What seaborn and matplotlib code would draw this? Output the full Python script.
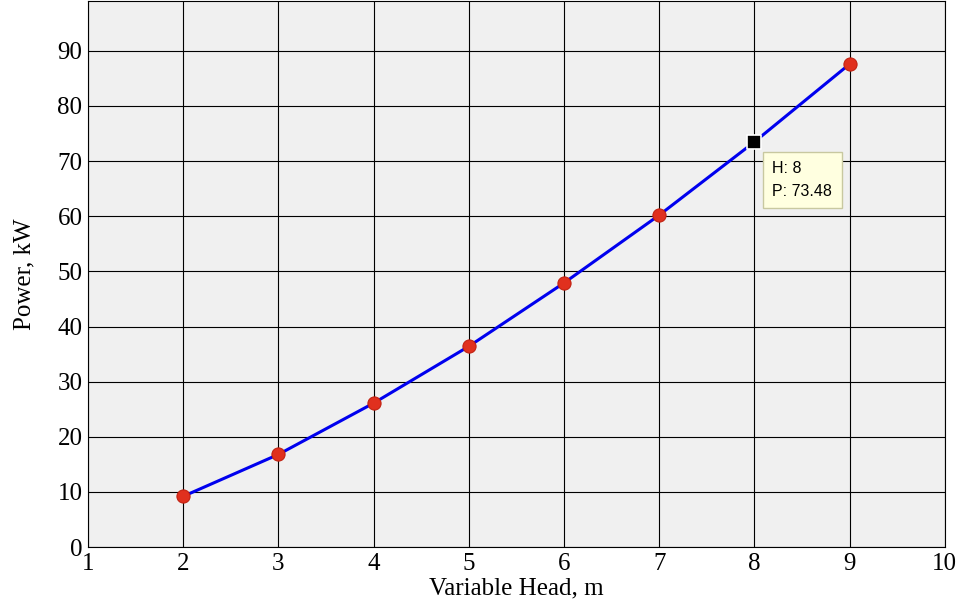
import matplotlib
matplotlib.use("Agg")
import matplotlib.pyplot as plt
import seaborn as sns
import pandas as pd

head = [2, 3, 4, 5, 6, 7, 8, 9]
power = [9.2, 16.8, 26.1, 36.4, 47.9, 60.2, 73.48, 87.6]
sel_h, sel_p = 8, 73.48

sns.set_theme(style="whitegrid")
plt.rcParams['font.family'] = ['Liberation Serif', 'DejaVu Serif']
plt.rcParams['text.color'] = 'black'
plt.rcParams['axes.labelcolor'] = 'black'
plt.rcParams['xtick.color'] = 'black'
plt.rcParams['ytick.color'] = 'black'

df = pd.DataFrame({"H": head, "P": power})
fig = plt.figure(figsize=(9.73, 6.14), dpi=100)
ax = fig.add_axes([0.0904, 0.109, 0.8806, 0.889])
ax.set_facecolor("#f0f0f0")
sns.lineplot(data=df, x="H", y="P", ax=ax, color="#0000ee", linewidth=2.2, zorder=3)
pts = df[df.H != sel_h]
sns.scatterplot(data=pts, x="H", y="P", ax=ax, color="#e0301e", s=90, edgecolor="#c02010", zorder=4, legend=False)
ax.scatter([sel_h], [sel_p], marker="s", s=110, color="black", edgecolor="white", linewidth=1.2, zorder=5)
ax.annotate(f"H: {sel_h}\nP: {sel_p}", (sel_h, sel_p), xytext=(13, -14), textcoords="offset points",
            ha="left", va="top", fontsize=11.5, family=["Liberation Sans", "DejaVu Sans"], linespacing=1.6,
            bbox=dict(boxstyle="square,pad=0.6", fc="#ffffe0", ec="#c8c8a0"), zorder=6)
ax.set_xlim(1, 10)
ax.set_ylim(0, 99)
ax.set_xticks(range(1, 11))
ax.set_yticks(range(0, 100, 10))
ax.grid(True, color="black", linewidth=0.8)
for s in ax.spines.values():
    s.set_color("black"); s.set_linewidth(0.8)
ax.tick_params(labelsize=18, length=0, pad=4)
ax.set_xlabel("Variable Head, m", fontsize=18, labelpad=2)
ax.set_ylabel("Power, kW", fontsize=18, labelpad=16)
fig.savefig("out.png", dpi=100)
